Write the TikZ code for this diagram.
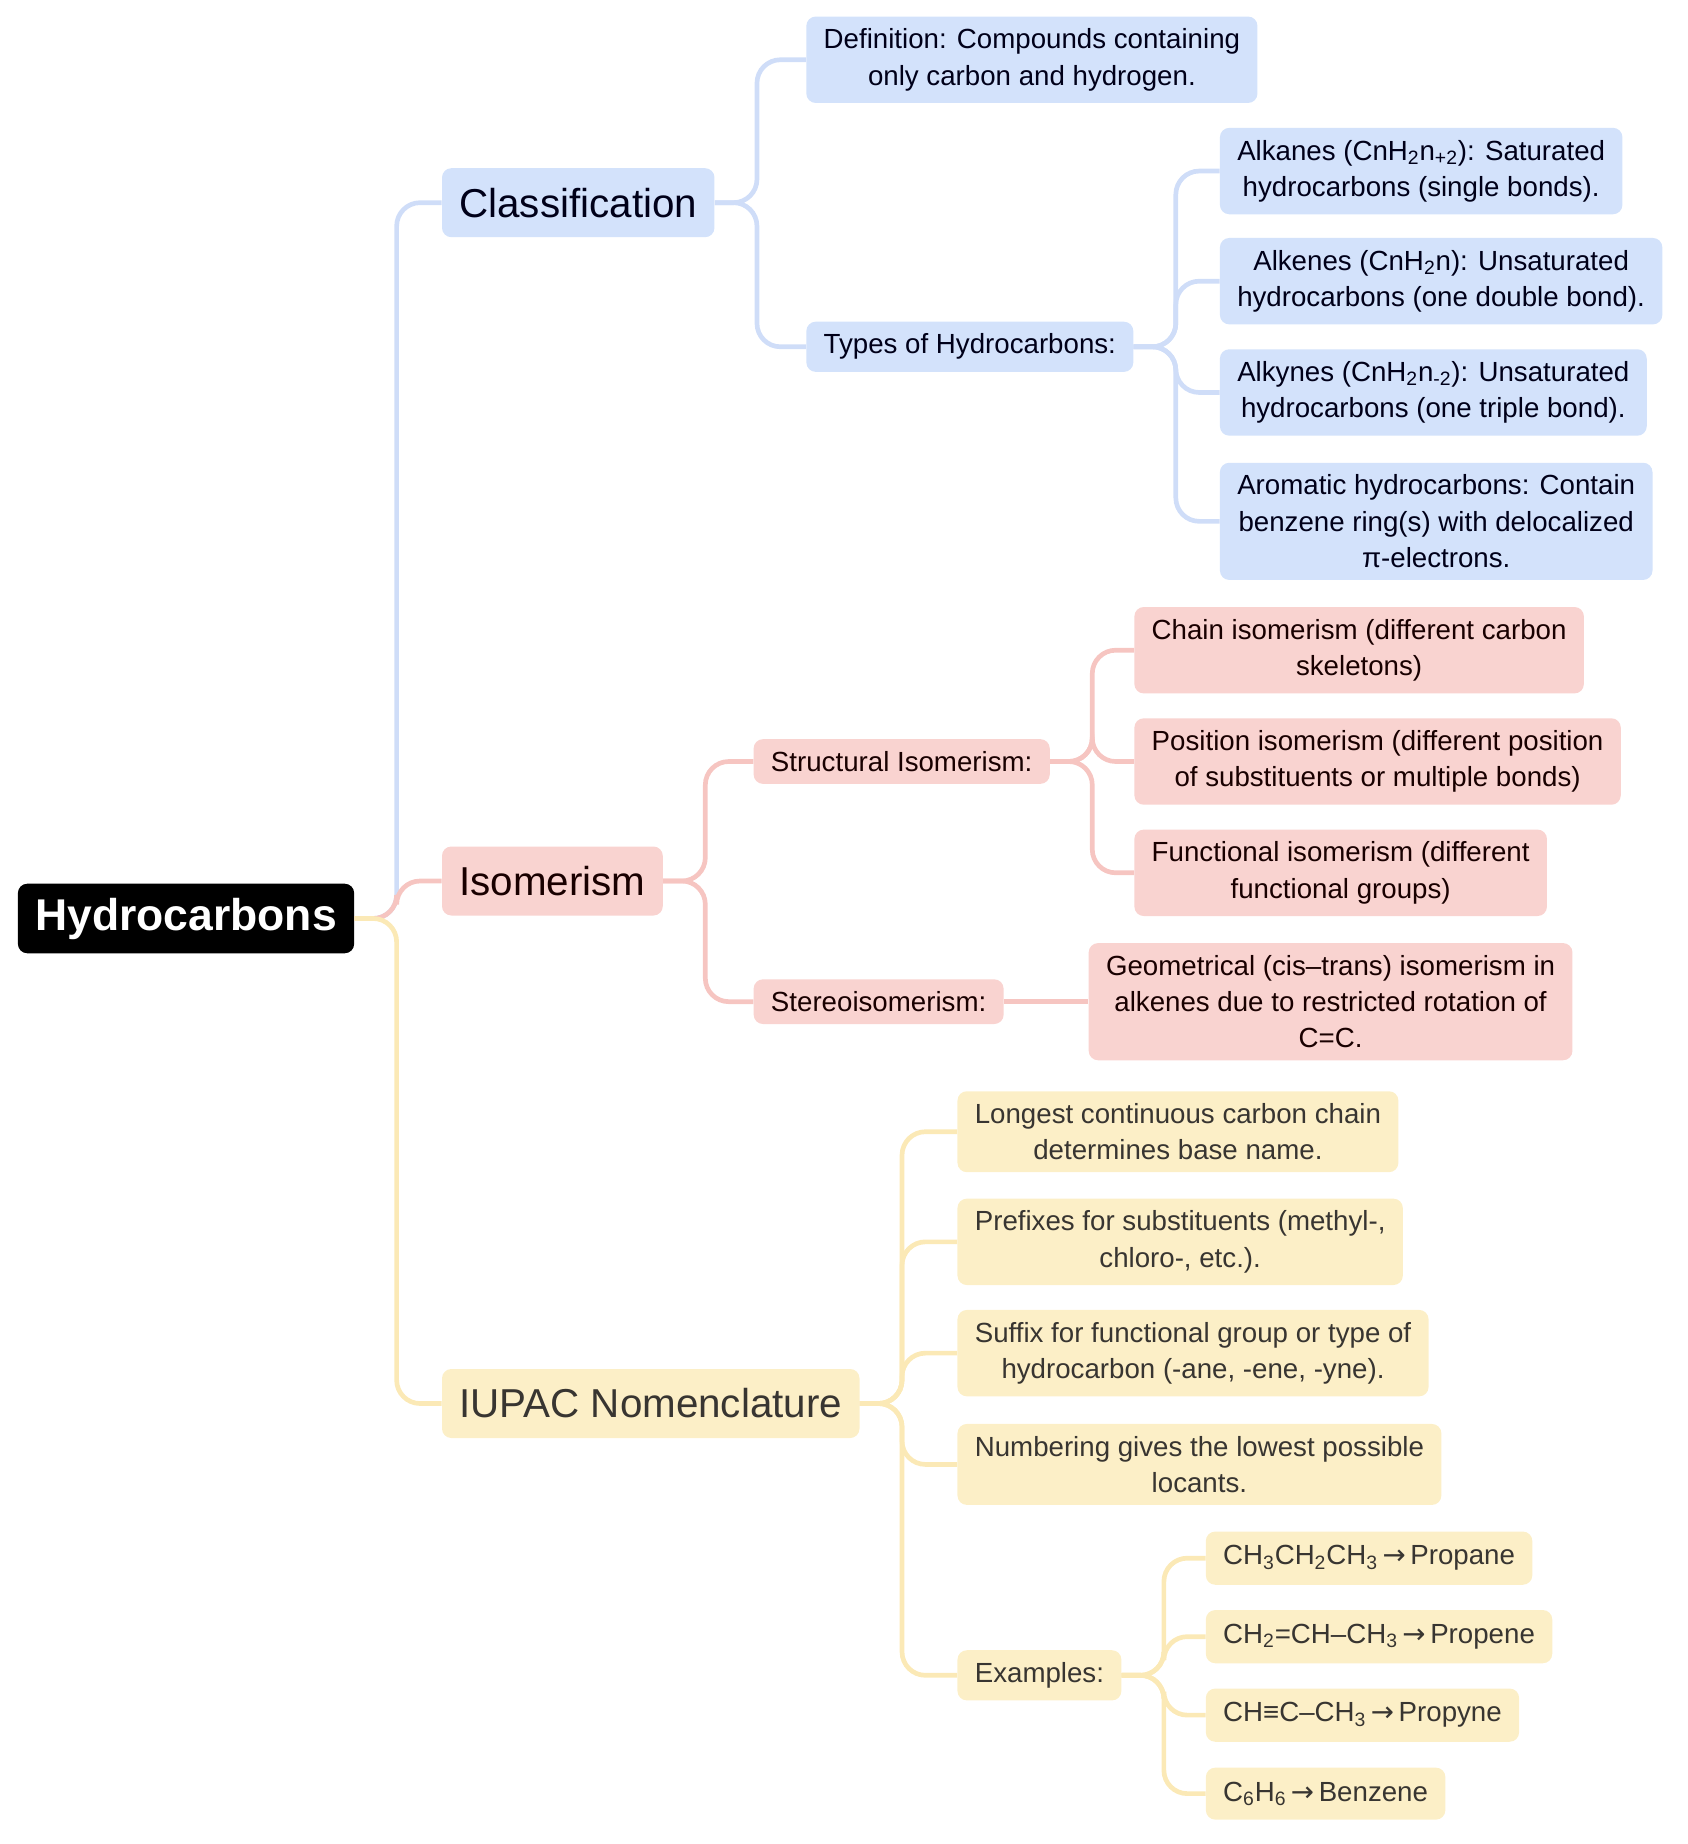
\documentclass[tikz,border=0pt]{standalone}
\usepackage{fontspec}
\setmainfont{Liberation Sans}
\newfontfamily\arrowfont{DejaVu Sans}
\usetikzlibrary{positioning,calc}
\definecolor{bluefill}{HTML}{D3E2FB}
\definecolor{blueline}{HTML}{CFDDF8}
\definecolor{redfill}{HTML}{F9D3D0}
\definecolor{redline}{HTML}{F6C5C1}
\definecolor{yelfill}{HTML}{FCEFC7}
\definecolor{yelline}{HTML}{FBE9B6}
\tikzstyle{box}     = [rectangle, rounded corners=0.2cm, align=center, anchor=west, inner xsep=0.37cm, inner ysep=0.26cm, font=\fontsize{16.8}{22}\selectfont]
\tikzstyle{topic}   = [box, inner ysep=0.42cm, font=\fontsize{24.5}{28}\selectfont]
\tikzstyle{bluebox} = [box, fill=bluefill, text=black!90!blue]
\tikzstyle{redbox}  = [box, fill=redfill, text=black!90!red]
\tikzstyle{yelbox}  = [box, fill=yelfill, text=black!90!yellow]
\tikzstyle{link}    = [line width=1mm, rounded corners=0.5cm]
\newcommand{\hookup}[3]{\draw[link, #1] (#2.east) -- ++(36,0) |- (#3.west);}
\newcommand{\yields}{{\arrowfont\,→\,}}
\begin{document}
\begin{tikzpicture}[x=0.025cm, y=-0.025cm]
    \useasboundingbox (0,0) rectangle (1440,1574);
    %Root and main topics
    \node (root) [box, fill=black, text=white, font=\bfseries\fontsize{27}{30}\selectfont, inner ysep=0.3cm] at (15,784) {Hydrocarbons};
    \node (class) [bluebox, topic, inner ysep=0.42cm, font=\fontsize{24.5}{28}\selectfont] at (377,173) {Classification};
    \node (isom)  [redbox, topic, inner ysep=0.42cm, font=\fontsize{24.5}{28}\selectfont] at (377,752) {Isomerism};
    \node (iupac) [yelbox, topic, inner ysep=0.42cm, font=\fontsize{24.5}{28}\selectfont] at (377,1198) {IUPAC Nomenclature};
    %Classification
    \node (defn)  [bluebox] at (688,51)  {Definition: Compounds containing\\only carbon and hydrogen.};
    \node (types) [bluebox] at (688,296) {Types of Hydrocarbons:};
    \node (alkan) [bluebox] at (1041,146) {Alkanes (CnH\textsubscript{2}n\textsubscript{+2}): Saturated\\hydrocarbons (single bonds).};
    \node (alken) [bluebox] at (1041,240) {Alkenes (CnH\textsubscript{2}n): Unsaturated\\hydrocarbons (one double bond).};
    \node (alkyn) [bluebox] at (1041,335) {Alkynes (CnH\textsubscript{2}n\textsubscript{-2}): Unsaturated\\hydrocarbons (one triple bond).};
    \node (arom)  [bluebox] at (1041,445) {Aromatic hydrocarbons: Contain\\benzene ring(s) with delocalized\\π-electrons.};
    %Isomerism
    \node (struc) [redbox] at (643,650) {Structural Isomerism:};
    \node (stereo)[redbox] at (643,855) {Stereoisomerism:};
    \node (chain) [redbox] at (968,555) {Chain isomerism (different carbon\\skeletons)};
    \node (posit) [redbox] at (968,650) {Position isomerism (different position\\of substituents or multiple bonds)};
    \node (func)  [redbox] at (968,745) {Functional isomerism (different\\functional groups)};
    \node (geom)  [redbox] at (929,855) {Geometrical (cis–trans) isomerism in\\alkenes due to restricted rotation of\\C=C.};
    %IUPAC
    \node (longest) [yelbox] at (817,966)  {Longest continuous carbon chain\\determines base name.};
    \node (prefix)  [yelbox] at (817,1060) {Prefixes for substituents (methyl-,\\chloro-, etc.).};
    \node (suffix)  [yelbox] at (817,1155) {Suffix for functional group or type of\\hydrocarbon (-ane, -ene, -yne).};
    \node (number)  [yelbox] at (817,1250) {Numbering gives the lowest possible\\locants.};
    \node (exam)    [yelbox] at (817,1430) {Examples:};
    \node (propa) [yelbox, inner ysep=0.3cm] at (1029,1330) {CH\textsubscript{3}CH\textsubscript{2}CH\textsubscript{3}\yields Propane};
    \node (prope) [yelbox, inner ysep=0.3cm] at (1029,1397) {CH\textsubscript{2}=CH–CH\textsubscript{3}\yields Propene};
    \node (propy) [yelbox, inner ysep=0.3cm] at (1029,1464) {CH≡C–CH\textsubscript{3}\yields Propyne};
    \node (benz)  [yelbox, inner ysep=0.3cm] at (1029,1531) {C\textsubscript{6}H\textsubscript{6}\yields Benzene};
    %Connect branches
    \foreach \c in {defn,types} {\hookup{blueline}{class}{\c}}
    \foreach \c in {alkan,alken,alkyn,arom} {\hookup{blueline}{types}{\c}}
    \foreach \c in {struc,stereo} {\hookup{redline}{isom}{\c}}
    \foreach \c in {chain,posit,func} {\hookup{redline}{struc}{\c}}
    \draw [link, redline] (stereo.east) -- (geom.west);
    \foreach \c in {longest,prefix,suffix,number,exam} {\hookup{yelline}{iupac}{\c}}
    \foreach \c in {propa,prope,propy,benz} {\hookup{yelline}{exam}{\c}}
    \hookup{blueline}{root}{class}
    \hookup{redline}{root}{isom}
    \hookup{yelline}{root}{iupac}
\end{tikzpicture}
\end{document}
